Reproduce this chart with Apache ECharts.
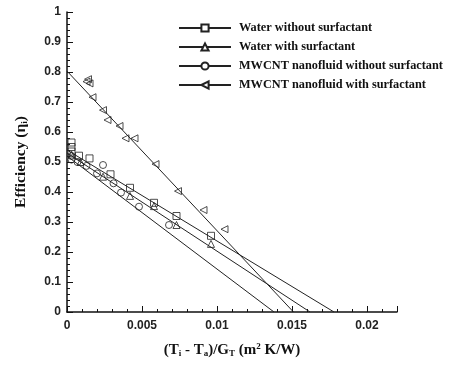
<!DOCTYPE html>
<html>
<head>
<meta charset="utf-8">
<script src="https://cdn.jsdelivr.net/npm/echarts@6/dist/echarts.min.js"></script>
<style>
html,body{margin:0;padding:0;background:#fff;}
#chart{width:474px;height:366px;}
</style>
</head>
<body>
<div id="chart"></div>
<script>
// ---- data ----
const seriesNames = [
  'Water without surfactant',
  'Water with surfactant',
  'MWCNT nanofluid without surfactant',
  'MWCNT nanofluid with surfactant'
];
// measured points [x, efficiency]
const waterNoSurf = [
  [0.0003,0.565],[0.0003,0.55],[0.0003,0.535],[0.0008,0.521],[0.0015,0.512],
  [0.0029,0.459],[0.0042,0.414],[0.0058,0.364],[0.0073,0.32],[0.0096,0.254]
];
const waterSurf = [
  [0.0003,0.525],[0.0009,0.50],[0.0024,0.451],[0.0042,0.387],
  [0.0058,0.353],[0.0073,0.29],[0.0096,0.227]
];
const mwcntNoSurf = [
  [0.0003,0.52],[0.0003,0.508],[0.0007,0.50],[0.0013,0.487],[0.002,0.462],
  [0.0024,0.49],[0.0031,0.429],[0.0036,0.398],[0.0048,0.351],[0.0068,0.29]
];
const mwcntSurf = [
  [0.0013,0.768],[0.0014,0.776],[0.0015,0.762],[0.0017,0.716],[0.0024,0.673],
  [0.0027,0.64],[0.0035,0.62],[0.0039,0.579],[0.0045,0.579],[0.0059,0.493],
  [0.0074,0.403],[0.0091,0.34],[0.0105,0.276]
];
// fitted lines: [x at intercept, efficiency], [x-axis intercept, 0]
const fitWaterNoSurf = [[0,0.54],[0.0178,0]];
const fitWaterSurf   = [[0,0.53],[0.0162,0]];
const fitMwcntNoSurf = [[0,0.52],[0.0138,0]];
const fitMwcntSurf   = [[0,0.803],[0.0151,0]];

const symbols = ['rect','triangle','circle','triangle'];
const symbolRot = [0,0,0,90];
const pointSets = [waterNoSurf, waterSurf, mwcntNoSurf, mwcntSurf];
const fitSets = [fitWaterNoSurf, fitWaterSurf, fitMwcntNoSurf, fitMwcntSurf];

const ink = '#222';
const series = [];
seriesNames.forEach((n,i)=>{
  series.push({
    name:n, type:'line', data:fitSets[i], showSymbol:false,
    symbol:symbols[i], symbolRotate:symbolRot[i], symbolSize:6,
    lineStyle:{color:ink,width:1}, itemStyle:{color:'#fff',borderColor:ink,borderWidth:1},
    z:2, silent:true
  });
});
seriesNames.forEach((n,i)=>{
  series.push({
    name:n, type:'scatter', data:pointSets[i],
    symbol:symbols[i], symbolRotate:symbolRot[i], symbolSize:7,
    itemStyle:{color:'rgba(255,255,255,0)',borderColor:ink,borderWidth:1},
    z:3
  });
});

const chart = echarts.init(document.getElementById('chart'),null,{renderer:'canvas'});
chart.setOption({
  animation:false,
  backgroundColor:'#fff',
  grid:{left:67,right:77,top:12,bottom:54},
  legend:{
    data:seriesNames, orient:'vertical', left:173, top:17,
    itemWidth:52, itemHeight:9, itemGap:7,
    textStyle:{fontFamily:'Liberation Serif',fontWeight:'bold',fontSize:12.3,color:'#111',padding:[0,0,0,3]}
  },
  xAxis:{
    type:'value', min:0, max:0.022, interval:0.005,
    name:'{n|(T}{s|i}{n| - T}{s|a}{n|)/G}{s|T}{n| (m}{p|2}{n| K/W)}',
    nameLocation:'middle', nameGap:30,
    nameTextStyle:{
      rich:{
        n:{fontFamily:'Liberation Serif',fontWeight:'bold',fontSize:15,color:'#111'},
        s:{fontFamily:'Liberation Serif',fontWeight:'bold',fontSize:9,color:'#111',verticalAlign:'bottom',padding:[7,0,0,0]},
        p:{fontFamily:'Liberation Serif',fontWeight:'bold',fontSize:9,color:'#111',verticalAlign:'top',padding:[0,0,7,0]}
      }
    },
    axisLine:{lineStyle:{color:'#111',width:1.5}},
    axisTick:{inside:true,length:6,lineStyle:{color:'#111'}},
    minorTick:{show:true,splitNumber:5,length:3,lineStyle:{color:'#111'}},
    axisLabel:{fontFamily:'Liberation Sans',fontWeight:'bold',fontSize:12,color:'#222',margin:8,showMaxLabel:false},
    splitLine:{show:false}
  },
  yAxis:{
    type:'value', min:0, max:1, interval:0.1,
    name:'{n|Efficiency (η}{s|i}{n|)}',
    nameLocation:'middle', nameGap:38, nameRotate:90,
    nameTextStyle:{
      rich:{
        n:{fontFamily:'Liberation Serif',fontWeight:'bold',fontSize:15.5,color:'#111'},
        s:{fontFamily:'Liberation Serif',fontWeight:'bold',fontSize:9,color:'#111',verticalAlign:'bottom',padding:[7,0,0,0]}
      }
    },
    axisLine:{lineStyle:{color:'#111',width:1.5}},
    axisTick:{inside:true,length:6,lineStyle:{color:'#111'}},
    minorTick:{show:true,splitNumber:5,length:3,lineStyle:{color:'#111'}},
    axisLabel:{fontFamily:'Liberation Sans',fontWeight:'bold',fontSize:12,color:'#222',margin:6},
    splitLine:{show:false}
  },
  series:series
});
</script>
</body>
</html>
